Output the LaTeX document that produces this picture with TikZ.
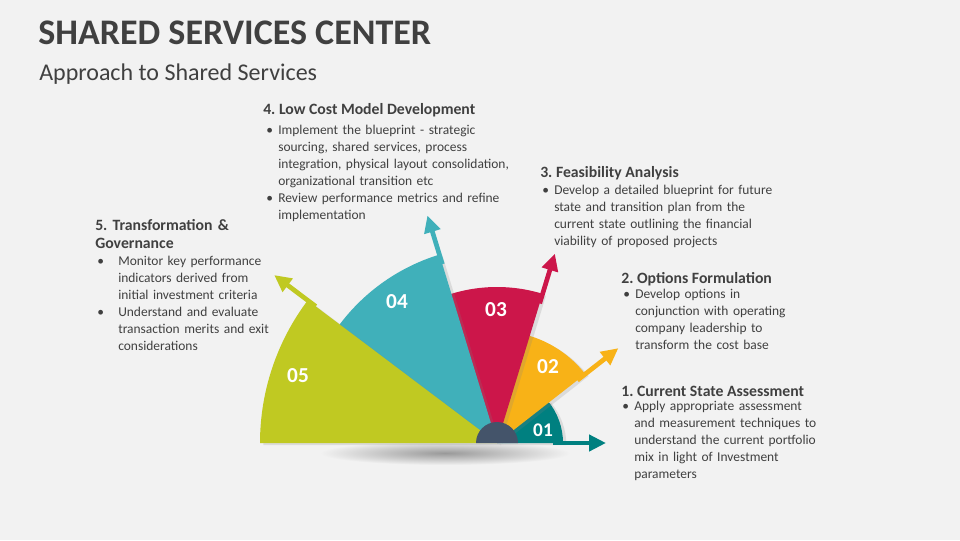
\documentclass[tikz,border=0pt]{standalone}
\usepackage{fontspec}
\setmainfont{Carlito}
\usetikzlibrary{arrows.meta, shadows}
\definecolor{bgcol}{RGB}{242,242,242}
\definecolor{textgray}{RGB}{64,64,64}
\definecolor{darkteal}{RGB}{0,128,128}
\definecolor{ambercol}{RGB}{248,178,23}
\definecolor{crimsoncol}{RGB}{204,22,74}
\definecolor{lightteal}{RGB}{64,176,186}
\definecolor{limecol}{RGB}{192,201,34}
\definecolor{slatecol}{RGB}{68,84,106}
\frenchspacing

\newcommand{\bulletline}[2]{\noindent\hangindent=#1\hangafter=1\makebox[#1][l]{\textbullet}#2\par}

\begin{document}
\begin{tikzpicture}[x=0.75pt, y=0.75pt,
    heading/.style={anchor=base west, inner sep=0pt, text=textgray, font=\fontsize{11.8}{13.5}\selectfont\bfseries},
    body/.style={anchor=north west, inner sep=0pt, text=textgray, align=left, font=\fontsize{10.1}{12.75}\selectfont},
    sector/.style={drop shadow={shadow xshift=2.5pt, shadow yshift=-1.5pt, opacity=0.2}},
    ray/.style={line width=3.5pt, -{Triangle[length=12.75pt, width=12pt]}},
    number/.style={text=white, font=\fontsize{16}{16}\selectfont\bfseries}]

    % Background
    \fill[bgcol] (0,0) rectangle (960,540);

    % Title
    \node[anchor=base west, inner sep=0pt, text=textgray, font=\fontsize{27}{32}\selectfont\bfseries] (title) at (38,495) {SHARED SERVICES CENTER};
    \node[anchor=base west, inner sep=0pt, text=textgray, font=\fontsize{18}{22}\selectfont] (subtitle) at (39,459) {Approach to Shared Services};

    % Shadow under the fan
    \shade[inner color=black!40, outer color=bgcol] (445,87) ellipse (125 and 12);

    % Sectors
    \coordinate (O) at (497,97);
    \fill[darkteal, sector] (O) -- ++(0:66) arc[start angle=0, end angle=40, radius=66] -- cycle;
    \draw[darkteal, ray, shift={(90:2.3)}] (O) ++(0:56) -- ++(0:53);
    \fill[ambercol, sector] (O) -- ++(38:112) arc[start angle=38, end angle=75, radius=112] -- cycle;
    \draw[ambercol, ray, shift={(128:2.3)}] (O) ++(38:102) -- ++(38:52);
    \fill[crimsoncol, sector] (O) -- ++(73:156) arc[start angle=73, end angle=109, radius=156] -- cycle;
    \draw[crimsoncol, ray, shift={(163:2.3)}] (O) ++(73:146) -- ++(73:52);
    \fill[lightteal, sector] (O) -- ++(107:197) arc[start angle=107, end angle=145, radius=197] -- cycle;
    \draw[lightteal, ray, shift={(197:2.3)}] (O) ++(107:187) -- ++(107:51);
    \fill[limecol, sector] (O) -- ++(143:237) arc[start angle=143, end angle=180, radius=237] -- cycle;
    \draw[limecol, ray, shift={(233:2.3)}] (O) ++(143:227) -- ++(143:52);

    % Hub
    \fill[slatecol] (O) ++(-21,0) arc[start angle=180, end angle=0, radius=21] -- cycle;

    % Numbers
    \node[number, font=\fontsize{14.5}{14.5}\selectfont\bfseries] (n1) at (543,110) {01};
    \node[number] (n2) at (548,173) {02};
    \node[number] (n3) at (496,230) {03};
    \node[number] (n4) at (397,238) {04};
    \node[number] (n5) at (298,164) {05};

    % Step 4
    \node[heading] (h4) at (263,425) {4. Low Cost Model Development};
    \node[body, text width=215pt] (b4) at (266,415) {%
        \bulletline{9pt}{Implement the blueprint - strategic\newline sourcing, shared services, process\newline integration, physical layout consolidation,\newline organizational transition etc}%
        \bulletline{9pt}{Review performance metrics and refine\newline implementation}};

    % Step 3
    \node[heading] (h3) at (540,362) {3. Feasibility Analysis};
    \node[body, text width=200pt] (b3) at (542,355) {%
        \bulletline{9pt}{Develop a detailed blueprint for future\newline state and transition plan from the\newline current state outlining the financial\newline viability of proposed projects}};

    % Step 2
    \node[heading] (h2) at (621,257) {2. Options Formulation};
    \node[body, text width=180pt] (b2) at (623,251) {%
        \bulletline{9pt}{Develop options in\newline conjunction with operating\newline company leadership to\newline transform the cost base}};

    % Step 1
    \node[heading] (h1) at (621,144) {1. Current State Assessment};
    \node[body, text width=200pt] (b1) at (622,139) {%
        \bulletline{9pt}{Apply appropriate assessment\newline and measurement techniques to\newline understand the current portfolio\newline mix in light of Investment\newline parameters}};

    % Step 5
    \node[heading, anchor=north west, align=left, text width=150pt] (h5) at (95,321) {5. Transformation \&\newline Governance};
    \node[body, text width=180pt] (b5) at (97,284) {%
        \bulletline{15.75pt}{Monitor key performance\newline indicators derived from\newline initial investment criteria}%
        \bulletline{15.75pt}{Understand and evaluate\newline transaction merits and exit\newline considerations}};
\end{tikzpicture}
\end{document}
